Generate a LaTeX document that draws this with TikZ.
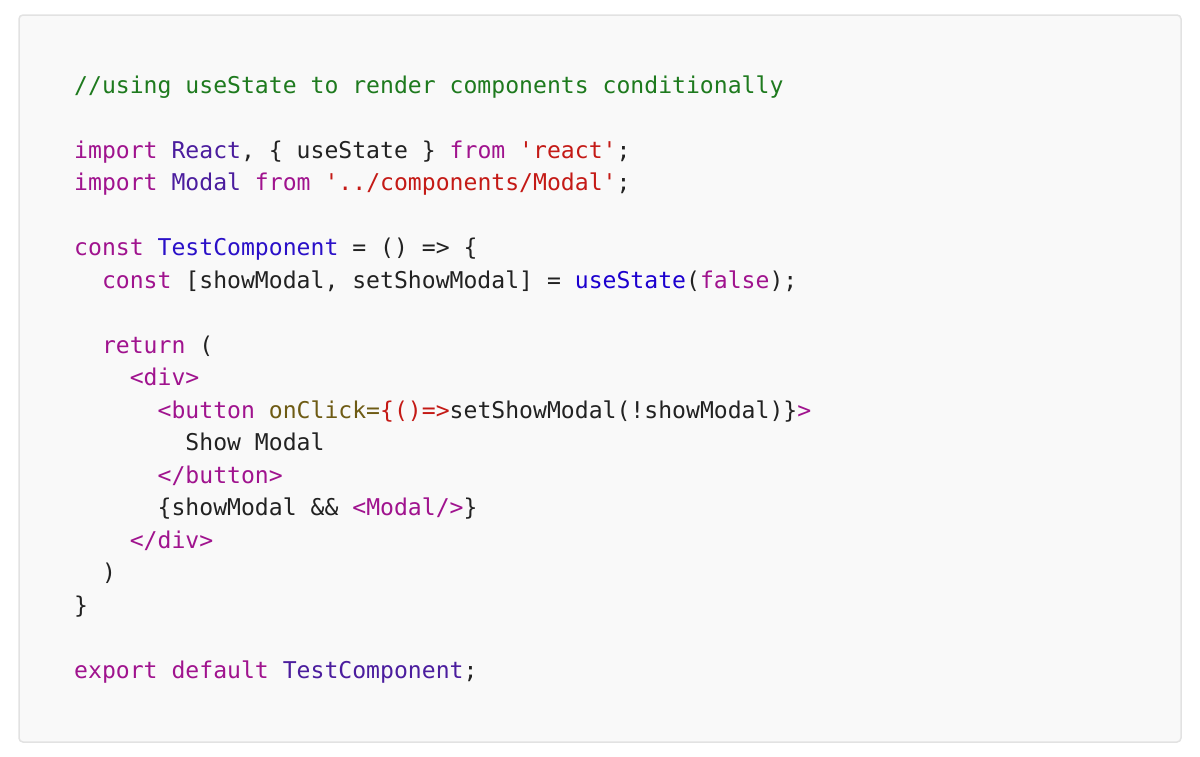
\documentclass[tikz,border=0pt]{standalone}
\usepackage{fontspec}
\newfontfamily\codefont{DejaVu Sans Mono}
\definecolor{bg}{HTML}{F9F9F9}
\definecolor{bd}{HTML}{E2E2E2}
\definecolor{cm}{HTML}{1E7A1E}
\definecolor{kw}{HTML}{A0138E}
\definecolor{id}{HTML}{4B1D9E}
\definecolor{tc}{HTML}{2A10C8}
\definecolor{st}{HTML}{C41A16}
\definecolor{fn}{HTML}{1C00CF}
\definecolor{at}{HTML}{6E5B14}
\definecolor{tx}{HTML}{222222}
\newcommand{\K}[1]{\textcolor{kw}{#1}}
\newcommand{\I}[1]{\textcolor{id}{#1}}
\newcommand{\T}[1]{\textcolor{tc}{#1}}
\newcommand{\St}[1]{\textcolor{st}{#1}}
\newcommand{\F}[1]{\textcolor{fn}{#1}}
\newcommand{\At}[1]{\textcolor{at}{#1}}
\begin{document}
\begin{tikzpicture}[x=1pt,y=-1pt,
  codeline/.style={anchor=base west,inner sep=0pt,text=tx,font=\codefont\fontsize{23.1}{28}\selectfont}]
\useasboundingbox (0,0) rectangle (1200,756);
\fill[white] (0,0) rectangle (1200,756);
\draw[bd,fill=bg,line width=1.5pt,rounded corners=4pt] (19,15) rectangle (1181,742);
\def\bl#1{\fpeval{85+8+32.5*#1}}
\node[codeline] (l0) at (74,93) {\textcolor{cm}{//using useState to render components conditionally}};
\node[codeline] (l2) at (74,158) {\K{import} \I{React}, \{ useState \} \K{from} \St{'react'};};
\node[codeline] (l3) at (74,190.5) {\K{import} \I{Modal} \K{from} \St{'../components/Modal'};};
\node[codeline] (l5) at (74,255.5) {\K{const} \T{TestComponent} = () => \{};
\node[codeline] (l6) at (74,288) {\phantom{xx}\K{const} [showModal, setShowModal] = \F{useState}(\K{false});};
\node[codeline] (l8) at (74,353) {\phantom{xx}\K{return} (};
\node[codeline] (l9) at (74,385.5) {\phantom{xxxx}\K{<div>}};
\node[codeline] (l10) at (74,418) {\phantom{xxxxxx}\K{<button} \At{onClick=}\St{\{()=>}setShowModal(!showModal)\}\K{>}};
\node[codeline] (l11) at (74,450.5) {\phantom{xxxxxxxx}Show Modal};
\node[codeline] (l12) at (74,483) {\phantom{xxxxxx}\K{</button>}};
\node[codeline] (l13) at (74,515.5) {\phantom{xxxxxx}\{showModal \&\& \K{<Modal/>}\}};
\node[codeline] (l14) at (74,548) {\phantom{xxxx}\K{</div>}};
\node[codeline] (l15) at (74,580.5) {\phantom{xx})};
\node[codeline] (l16) at (74,613) {\}};
\node[codeline] (l18) at (74,678) {\K{export} \K{default} \I{TestComponent};};
\end{tikzpicture}
\end{document}
